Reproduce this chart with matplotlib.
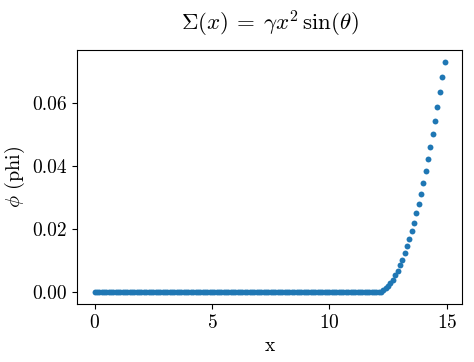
import numpy as np
import matplotlib
matplotlib.use('Agg')
import matplotlib.pyplot as plt

plt.rcParams['font.family'] = 'serif'
plt.rcParams['font.serif'] = ['cmr10']
plt.rcParams['mathtext.fontset'] = 'cm'
plt.rcParams['axes.formatter.use_mathtext'] = True

# x sampled every 0.1 from 0 to 14.9, phi is zero until ~12
x = np.round(np.arange(0, 15, 0.1), 1)
phi_tail = [0.0001, 0.0003, 0.0007, 0.0013, 0.0021, 0.0030, 0.0041, 0.0054,
            0.0069, 0.0086, 0.0104, 0.0124, 0.0146, 0.0169, 0.0194, 0.0221,
            0.0251, 0.0281, 0.0313, 0.0347, 0.0386, 0.0422, 0.0461, 0.0501,
            0.0545, 0.0589, 0.0636, 0.0684, 0.0732]
phi = np.zeros(len(x))
phi[-len(phi_tail):] = phi_tail

fig = plt.figure(figsize=(4.74, 3.62), dpi=100)
ax = fig.add_axes([77/474, 1 - 304/362, 385/474, 254/362])

ax.scatter(x, phi, s=18, color='#1f77b4', linewidths=0)

ax.set_xticks([0, 5, 10, 15])
ax.set_yticks([0.00, 0.02, 0.04, 0.06])
ax.set_yticklabels(['0.00', '0.02', '0.04', '0.06'])
ax.tick_params(labelsize=14)

ax.set_xlabel('x', fontsize=14)
ax.set_ylabel(r'$\phi$ (phi)', fontsize=14.5)
ax.set_title(r'$\Sigma(x)\:=\:\gamma x^2\,\sin(\theta)$', fontsize=16.5, pad=14)

fig.savefig('out.png', dpi=100)
